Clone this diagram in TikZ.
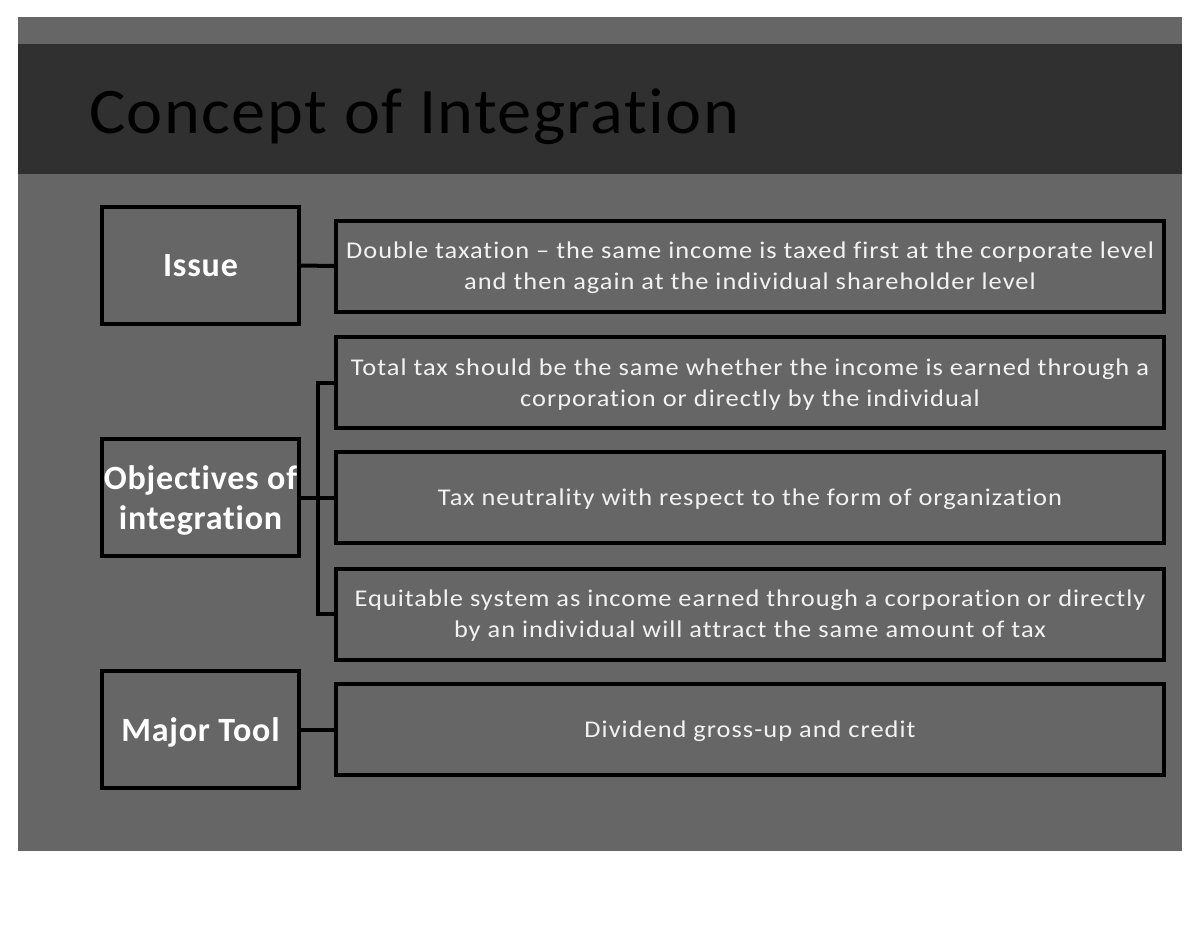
\documentclass[tikz,border=0pt]{standalone}
\usepackage{fontspec}
\setmainfont{Carlito}
\newfontfamily\boxfont[FakeStretch=1.1,LetterSpace=4.2,Ligatures=NoCommon]{Carlito}
\newfontfamily\titlefont[FakeStretch=1.05,LetterSpace=2.2,Ligatures=NoCommon]{Carlito}
\newfontfamily\labelfont[LetterSpace=2.3,Ligatures=NoCommon]{Carlito}
\definecolor{slidegray}{HTML}{666666}
\definecolor{titlebar}{HTML}{303030}
\definecolor{boxtext}{HTML}{F2F2F2}
\begin{document}
\begin{tikzpicture}[x=1pt,y=-1pt,
  leftbox/.style={draw=black,line width=4pt,fill=slidegray,minimum width=197pt,minimum height=117pt,
    inner sep=0pt,align=center,text=white,text depth=0pt,font=\labelfont\fontsize{34}{39.5}\selectfont\bfseries},
  rightbox/.style={draw=black,line width=4pt,fill=slidegray,minimum width=828pt,minimum height=91pt,
    inner sep=0pt,align=center,text=boxtext,text depth=0pt,font=\boxfont\fontsize{24}{31}\selectfont},
  conn/.style={draw=black,line width=4pt,line join=miter}]
\useasboundingbox (0,0) rectangle (1200,927);
\fill[white] (0,0) rectangle (1200,927);
\fill[slidegray] (18,17) rectangle (1182,851);
\fill[titlebar] (18,44) rectangle (1182,174);
\node[anchor=base west,inner sep=0pt,text=black,font=\titlefont\fontsize{65}{70}\selectfont] (title) at (89,133) {Concept of Integration};

\node[leftbox] (issue) at (200.5,265.5) {Issue};
\node[leftbox] (obj) at (200.5,497.5) {Objectives of\\integration};
\node[leftbox] (tool) at (200.5,729.5) {Major Tool};

\node[rightbox] (r1) at (750,266) {Double taxation – the same income is taxed first at the corporate level\\and then again at the individual shareholder level};
\node[rightbox] (r2) at (750,382.5) {Total tax should be the same whether the income is earned through a\\corporation or directly by the individual};
\node[rightbox] (r3) at (750,497.5) {Tax neutrality with respect to the form of organization};
\node[rightbox] (r4) at (750,614) {Equitable system as income earned through a corporation or directly\\by an individual will attract the same amount of tax};
\node[rightbox] (r5) at (750,729.5) {Dividend gross-up and credit};

\coordinate (bus) at (318,497.5);
\draw[conn] (issue.east) -- (r1.west);
\draw[conn] (obj.east) -- (r3.west);
\draw[conn] (r2.west) -| (bus) |- (r4.west);
\draw[conn] (tool.east) -- (r5.west);
\end{tikzpicture}
\end{document}
